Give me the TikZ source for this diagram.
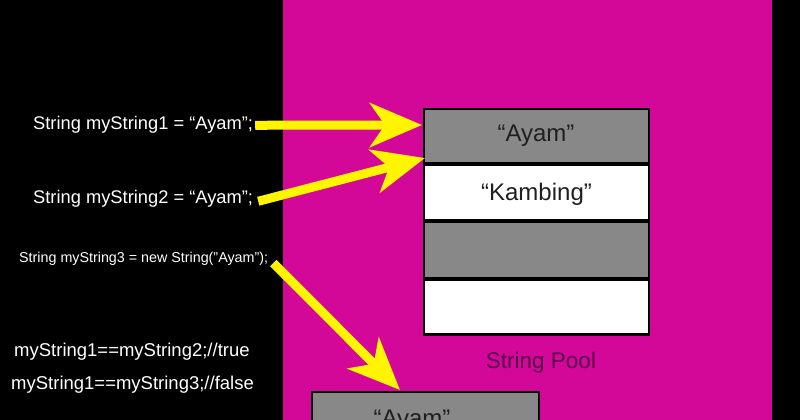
\documentclass[tikz,border=0pt]{standalone}
\usepackage{fontspec}
\setmainfont{Liberation Sans}
\usetikzlibrary{arrows.meta}
\definecolor{mag}{RGB}{212,8,152}
\definecolor{cellgray}{RGB}{136,136,136}
\definecolor{pooltext}{RGB}{85,0,75}
\definecolor{yel}{RGB}{255,245,0}
\begin{document}
\begin{tikzpicture}[x=1pt,y=-1pt,
  code/.style={text=white, anchor=base west, inner sep=0pt, font=\fontsize{18.3}{20}\selectfont},
  cell/.style={anchor=north west, minimum width=223pt, minimum height=53pt, inner sep=0pt, draw=none},
  celltext/.style={anchor=base, inner sep=0pt, text=black!88, font=\fontsize{24}{28}\selectfont},
  yarrow/.style={draw=yel, line width=9pt, -{Stealth[length=52pt,width=44pt,inset=15pt]}}]
\clip (0,0) rectangle (800,420);
\useasboundingbox (0,0) rectangle (800,420);
\fill[black] (0,0) rectangle (800,420);
\fill[mag] (283,0) rectangle (772,420);
% string pool
\fill[black] (423,108) rectangle (650,335.5);
\node[cell, fill=cellgray, minimum height=52pt] (c1) at (425,110) {};
\node[cell, fill=white, minimum height=53pt] (c2) at (425,166) {};
\node[cell, fill=cellgray, minimum height=54pt] (c3) at (425,223) {};
\node[cell, fill=white, minimum height=52pt] (c4) at (425,281) {};
\node[celltext] (l1) at (536,141) {“Ayam”};
\node[celltext] (l2) at (536.5,200) {“Kambing”};
\node[anchor=base, inner sep=0pt, text=pooltext, font=\fontsize{22.5}{26}\selectfont] (pool) at (541,368) {String Pool};
% heap object
\node[anchor=north west, minimum width=227pt, minimum height=56pt, inner sep=0pt, fill=cellgray, draw=black, line width=2pt] (b1) at (311,391) {};
\node[celltext] (bl) at (412,426) {“Ayam”};
% code
\node[code] (t1) at (33,129) {String myString1 = “Ayam”;};
\node[code] (t2) at (33,203) {String myString2 = “Ayam”;};
\node[code, font=\fontsize{14.3}{16}\selectfont] (t3) at (19,262.7) {String myString3 = new String(”Ayam”);};
\node[code, font=\fontsize{18.5}{20}\selectfont] (t4) at (14,356) {myString1==myString2;//true};
\node[code, font=\fontsize{18.5}{20}\selectfont] (t5) at (11,389) {myString1==myString3;//false};
% arrows
\coordinate (tip1) at (422,125);
\coordinate (tip2) at (425,158);
\coordinate (tip3) at (400,390);
\draw[yarrow] ([xshift=2pt,yshift=-1pt]t1.east) -- (tip1);
\draw[yarrow] ([xshift=5pt,yshift=-3pt]t2.east) -- (tip2);
\draw[yarrow] ([xshift=5pt,yshift=-4pt]t3.east) -- (tip3);
\end{tikzpicture}
\end{document}
